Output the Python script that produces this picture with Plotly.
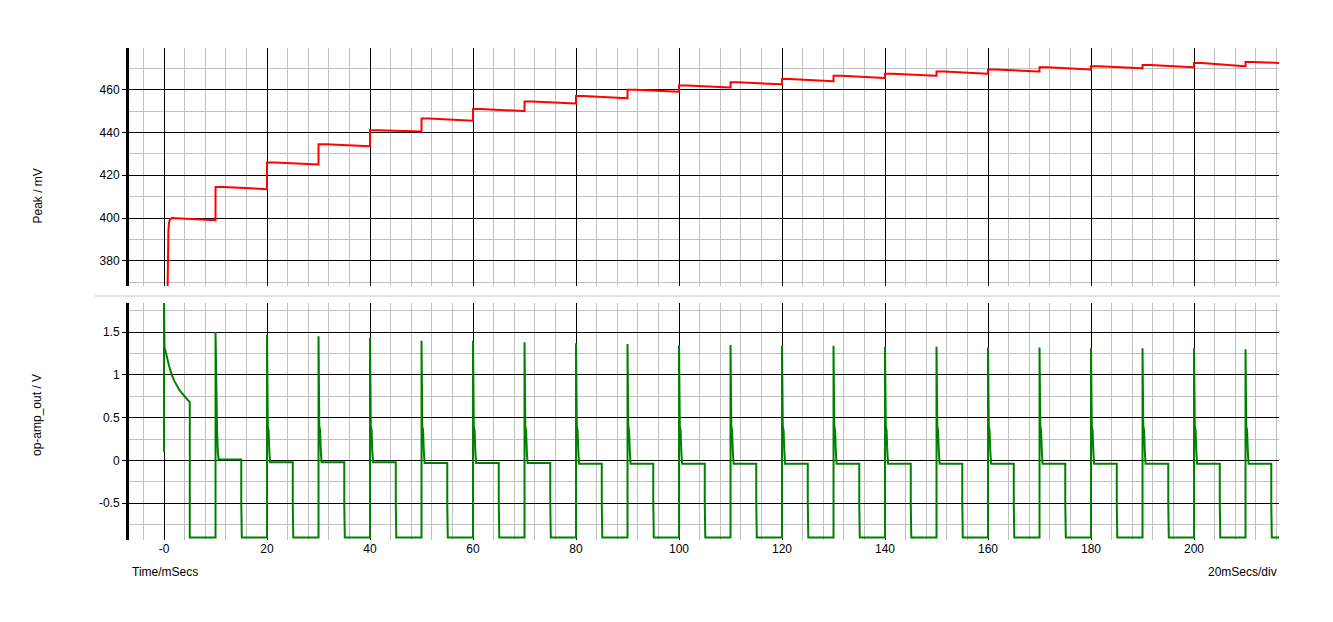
import plotly.graph_objects as go

# ---- data ----
step_times = [0,10,20,30,40,50,60,70,80,90,100,110,120,130,140,150,160,170,180,190,200,210]
peak_start = [400,414.5,426,434.5,441,446.5,451,454.5,457,460,462,463.5,465,466.5,467.5,468.5,469.5,470.5,471,471.5,472.5,473]
peak_end   = [399,413.5,425,433.5,440.5,445.5,450,453.5,456,459,461,462.5,464,465.5,466.5,467.5,468.5,469.5,470,470.5,471,472.5]
rise_t = [0.7,0.75,0.85,0.95,1.1,1.5]
rise_v = [368,388,394,397.5,399,400]
spike_peak = [1.84,1.5,1.47,1.45,1.43,1.4,1.4,1.38,1.37,1.36,1.35,1.35,1.34,1.34,1.33,1.33,1.32,1.32,1.31,1.31,1.31,1.3]
plateau = [0.68,0.01,-0.02,-0.02,-0.02,-0.03,-0.03,-0.03,-0.04,-0.04,-0.04,-0.04,-0.04,-0.04,-0.04,-0.04,-0.04,-0.04,-0.04,-0.04,-0.04,-0.04]
decay_t = [0.2,0.5,1,1.5,2,3,4,5]
decay_v = [1.3,1.22,1.1,1.0,0.93,0.82,0.75,0.68]
low_level = -0.9
t_end = 216.5

# ---- build traces ----
rx, ry = list(rise_t), list(rise_v)
for i, t in enumerate(step_times):
    if i > 0:
        rx += [t, t]; ry += [peak_end[i-1], peak_start[i]]
    rx += [t + 1.5, t + 9.9]; ry += [peak_start[i], peak_end[i]]
rx[-1] = t_end

gx, gy = [0, 0], [0.1, spike_peak[0]]
gx += [0.1] + decay_t; gy += [1.3] + decay_v
gx += [5, 10]; gy += [low_level, low_level]
for i, t in enumerate(step_times[1:], start=1):
    gx += [t, t, t+0.15, t+0.3, t+0.45, t+0.6, t+0.8, t+5, t+5, t+5.1, t+10]
    gy += [low_level, spike_peak[i], 0.4, 0.35, 0.1, plateau[i], plateau[i], plateau[i], -0.5, low_level, low_level]
gx = [min(v, t_end) for v in gx]

fig = go.Figure()
fig.add_trace(go.Scatter(x=rx, y=ry, mode="lines", line=dict(color="#ff0000", width=2), xaxis="x", yaxis="y"))
fig.add_trace(go.Scatter(x=gx, y=gy, mode="lines", line=dict(color="#008000", width=2), xaxis="x2", yaxis="y2"))

W, H = 1333, 622
o = 8  # page body offset
def px(v): return (v - o) / W
def py(v): return 1 - (v - o) / H

xd = [px(129), px(1279)]
xcommon = dict(range=[-6.8, t_end], domain=xd, showline=False, zeroline=False,
               gridcolor="black", gridwidth=1, tickvals=list(range(0, 220, 20)),
               minor=dict(tickvals=[v for v in range(-4, 217, 4) if v % 20], gridcolor="#c0c0c0", showgrid=True))
ycommon = dict(showline=True, linecolor="black", linewidth=3, zeroline=False,
               gridcolor="black", ticks="outside", ticklen=4, tickcolor="black",
               tickfont=dict(family="Liberation Sans, Arial", size=12, color="black"))
fig.update_layout(
    width=W, height=H, margin=dict(l=0, r=0, t=0, b=0), showlegend=False,
    paper_bgcolor="white", plot_bgcolor="white",
    xaxis=dict(**xcommon, anchor="y", showticklabels=False),
    xaxis2=dict(**xcommon, anchor="y2", ticktext=["-0"] + [str(v) for v in range(20, 220, 20)],
                tickfont=dict(family="Liberation Sans, Arial", size=12, color="black")),
    yaxis=dict(**ycommon, domain=[py(286), py(48)], range=[368.2, 479.5], tickvals=[380, 400, 420, 440, 460],
               minor=dict(tickvals=[370, 390, 410, 430, 450, 470], gridcolor="#c0c0c0", showgrid=True)),
    yaxis2=dict(**ycommon, domain=[py(540), py(303)], range=[-0.93, 1.84], tickvals=[-0.5, 0, 0.5, 1, 1.5],
                ticktext=["-0.5", "0", "0.5", "1", "1.5"],
                minor=dict(tickvals=[-0.75, -0.25, 0.25, 0.75, 1.25, 1.75], gridcolor="#c0c0c0", showgrid=True)),
    shapes=[dict(type="line", xref="paper", yref="paper", x0=px(95), x1=px(1280), y0=py(296), y1=py(296),
                 line=dict(color="#c8c8c8", width=1))],
)
f = dict(family="Liberation Sans, Arial", size=12, color="black")
fig.add_annotation(text="Peak / mV", x=px(28), y=py(167), xref="paper", yref="paper", textangle=-90, showarrow=False, font=f)
fig.add_annotation(text="op-amp_out / V", x=px(28), y=py(415), xref="paper", yref="paper", textangle=-90, showarrow=False, font=f)
fig.add_annotation(text="Time/mSecs", x=px(130), y=py(581), xref="paper", yref="paper", xanchor="left", showarrow=False, font=f)
fig.add_annotation(text="20mSecs/div", x=px(1279), y=py(581), xref="paper", yref="paper", xanchor="right", showarrow=False, font=f)
fig.write_html("out.html")
